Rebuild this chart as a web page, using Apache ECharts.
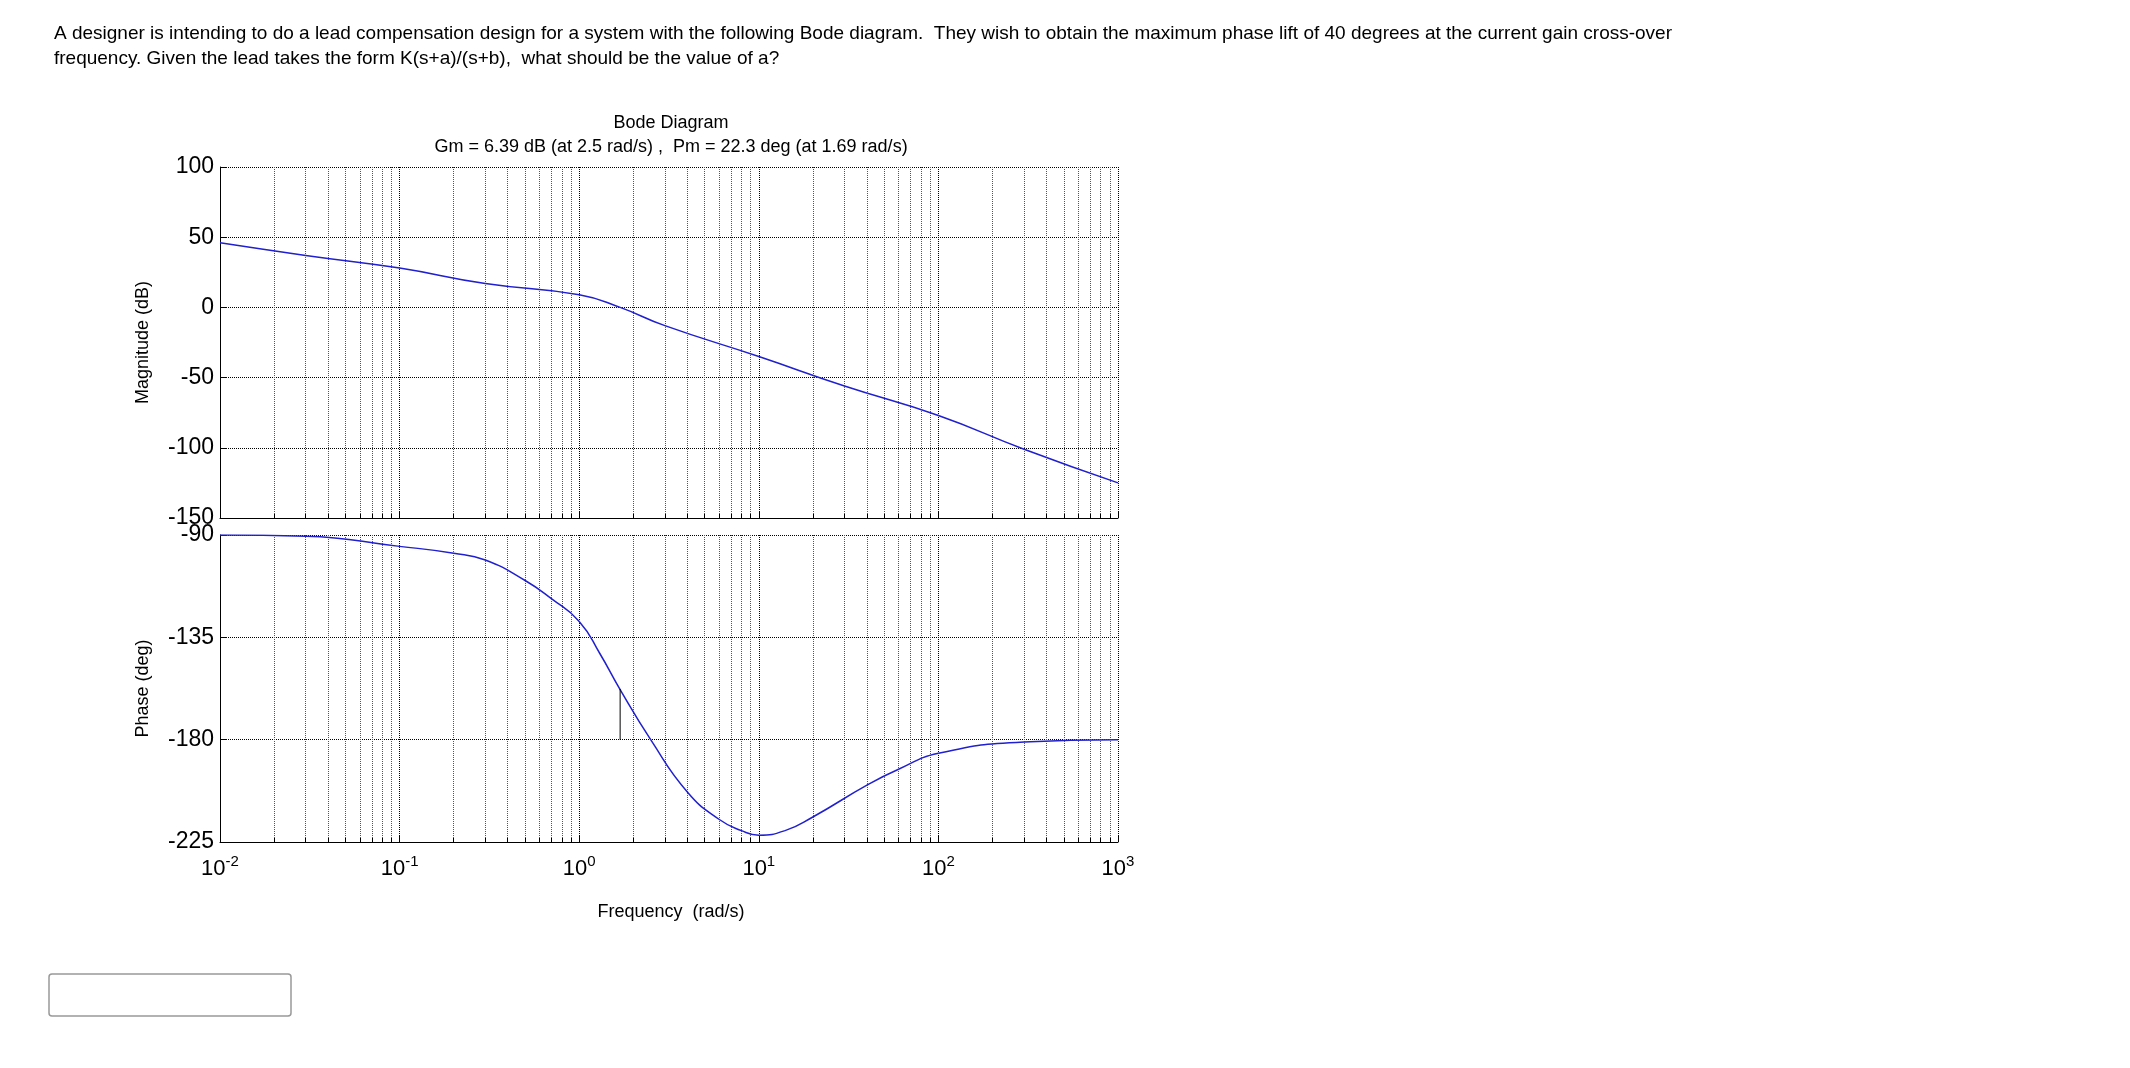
<!DOCTYPE html>
<html><head><meta charset="utf-8">
<script src="https://cdn.jsdelivr.net/npm/echarts@6/dist/echarts.min.js"></script>
<style>html,body{margin:0;background:#fff}#c{width:2130px;height:1068px}</style>
</head><body><div id="c"></div>
<script>
const magFreq = [0.01,0.03,0.1,0.3,1,1.69,3,10,30,100,300,1000];
const magDb   = [46,37,28,17,9,0,-13,-35,-56,-77,-101,-125];
const phFreq  = [0.01,0.03,0.1,0.2,0.3,0.5,0.7,1,1.3,1.69,2.5,4,6,8,10,14,20,40,60,100,300,1000];
const phDeg   = [-90,-90.5,-95,-98,-101,-110,-118,-128,-142,-158,-180,-203,-215,-220,-222,-220,-214,-200,-193,-186,-181,-180];
const xTicks  = ['10^-2','10^-1','10^0','10^1','10^2','10^3'];
const magTicks = [-150,-100,-50,0,50,100];
const phTicks = [-225,-180,-135,-90];
const pmFreq = 1.69, pmDeg = -157.7;

const chart = echarts.init(document.getElementById('c'));
const grey = '#000';
function xAxis(idx, show){
  return {type:'log', gridIndex:idx, min:0.01, max:1000, logBase:10,
    axisLine:{show:true,onZero:false,lineStyle:{color:grey}},
    axisTick:{show:true,inside:true,length:6,lineStyle:{color:grey}},
    minorTick:{show:true,splitNumber:9,length:4},
    splitLine:{show:true,lineStyle:{type:'dotted',color:'#000',width:1}},
    minorSplitLine:{show:true,lineStyle:{type:'dotted',color:'#555'}},
    axisLabel:{show:show,margin:12,fontFamily:'Liberation Sans',fontSize:22,color:'#000',
      formatter:v=>{const e=Math.round(Math.log10(v));return '10{s|'+e+'}';},
      rich:{s:{fontSize:15,verticalAlign:'top',padding:[0,0,14,0]}}}
  };
}
function yAxis(idx,min,max,interval,name){
  return {type:'value',gridIndex:idx,min:min,max:max,interval:interval,name:name,
    nameLocation:'middle',nameGap:68,nameTextStyle:{fontFamily:'Liberation Sans',fontSize:18,color:'#000'},
    axisLine:{show:true,lineStyle:{color:grey}},
    axisTick:{show:true,inside:true,length:6,lineStyle:{color:grey}},
    splitLine:{show:true,lineStyle:{type:'dotted',color:'#000'}},
    axisLabel:{fontFamily:'Liberation Sans',fontSize:23,color:'#000',margin:6}};
}
chart.setOption({
  animation:false,
  title:[{text:'A designer is intending to do a lead compensation design for a system with the following Bode diagram.  They wish to obtain the maximum phase lift of 40 degrees at the current gain cross-over\nfrequency. Given the lead takes the form K(s+a)/(s+b),  what should be the value of a?',
    left:49,top:16,textStyle:{fontFamily:'Liberation Sans',fontWeight:'normal',fontSize:19,color:'#000',lineHeight:25}},
    {text:'Bode Diagram',left:666,top:109,textAlign:'center',textStyle:{fontFamily:'Liberation Sans',fontWeight:'normal',fontSize:18,color:'#000'}},
    {text:'Gm = 6.39 dB (at 2.5 rad/s) ,  Pm = 22.3 deg (at 1.69 rad/s)',left:666,top:133,textAlign:'center',textStyle:{fontFamily:'Liberation Sans',fontWeight:'normal',fontSize:18,color:'#000'}},
    {text:'Frequency  (rad/s)',left:666,top:898,textAlign:'center',textStyle:{fontFamily:'Liberation Sans',fontWeight:'normal',fontSize:18,color:'#000'}}
  ],
  grid:[{left:220,top:167,width:898,height:351},{left:220,top:535,width:898,height:307}],
  xAxis:[xAxis(0,false),xAxis(1,true)],
  yAxis:[yAxis(0,-150,100,50,'Magnitude (dB)'),yAxis(1,-225,-90,45,'Phase (deg)')],
  series:[
    {type:'line',xAxisIndex:0,yAxisIndex:0,smooth:true,symbol:'none',lineStyle:{color:'#2020d0',width:1.5},data:magFreq.map((f,i)=>[f,magDb[i]])},
    {type:'line',xAxisIndex:1,yAxisIndex:1,smooth:true,symbol:'none',lineStyle:{color:'#2020d0',width:1.5},data:phFreq.map((f,i)=>[f,phDeg[i]])},
    {type:'line',xAxisIndex:1,yAxisIndex:1,symbol:'none',lineStyle:{color:'#000',width:1},data:[[pmFreq,-180],[pmFreq,pmDeg]]}
  ],
  graphic:[{type:'rect',shape:{x:49,y:974,width:242,height:42,r:3},style:{fill:'#fff',stroke:'#999',lineWidth:1.5}}]
});
</script></body></html>
